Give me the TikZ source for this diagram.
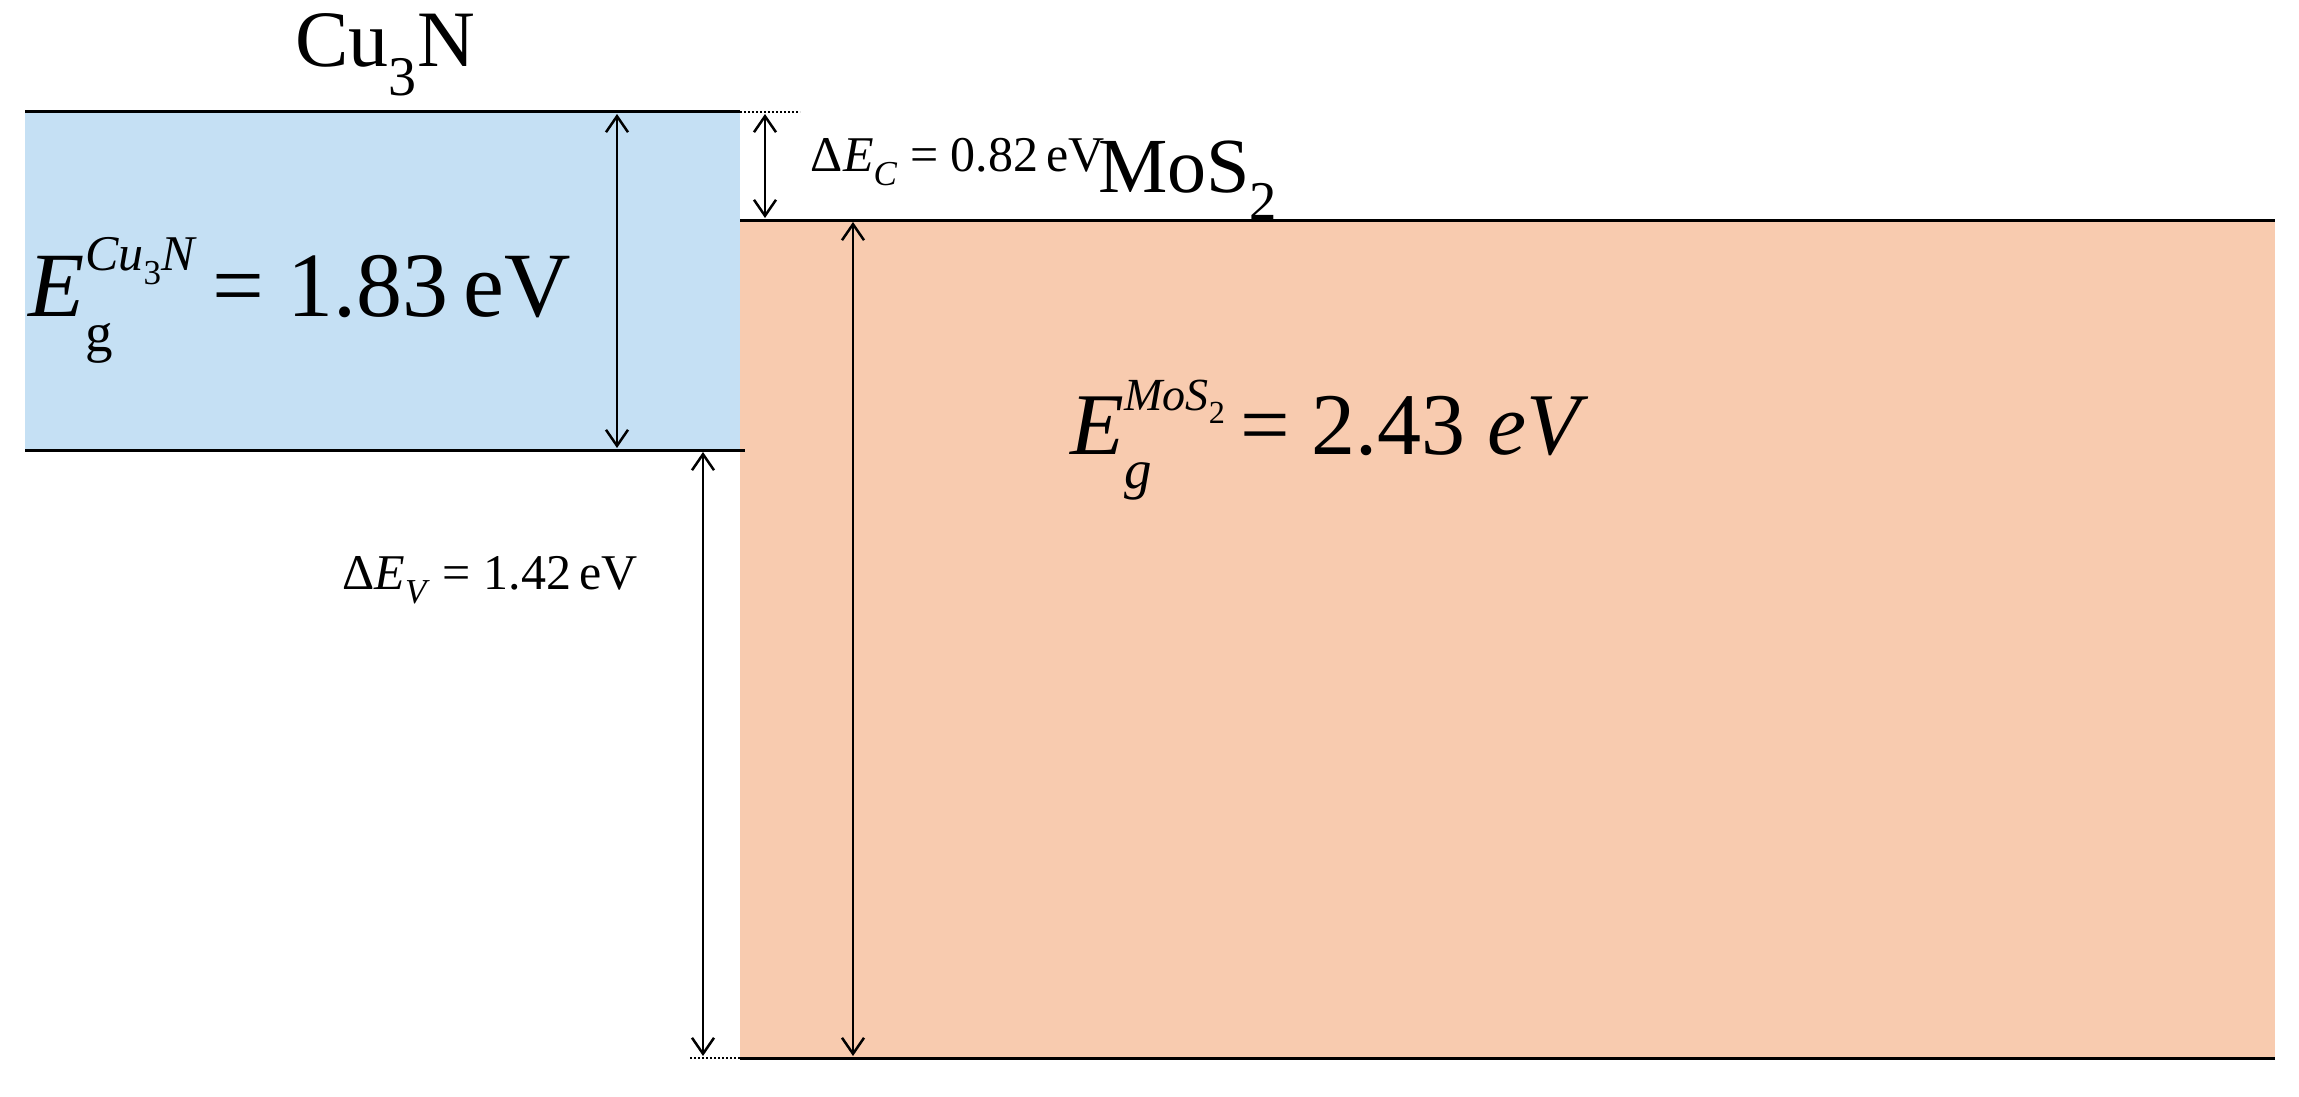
\documentclass[tikz,border=0pt]{standalone}
\usepackage{fontspec}
\usetikzlibrary{arrows.meta}
\setmainfont{Liberation Serif}
\definecolor{cublue}{RGB}{197,224,244}
\definecolor{mosor}{RGB}{248,203,175}
\tikzset{lvl/.style={line width=3pt},dot/.style={line width=2pt,dotted},
 arr/.style={line width=2.5pt,<->,>={Straight Barb[length=16pt,width=22pt]}}}
\begin{document}
\begin{tikzpicture}[x=1pt,y=-1pt]
\useasboundingbox (0,0) rectangle (2299,1097);
\fill[cublue] (25,112) rectangle (740,450);
\fill[mosor] (740,220) rectangle (2275,1058);
\coordinate (c1) at (25,112); \coordinate (c2) at (740,112); \coordinate (c3) at (800,112);
\coordinate (v1) at (25,450); \coordinate (v2) at (745,450);
\coordinate (m1) at (740,220); \coordinate (m2) at (2275,220);
\coordinate (b0) at (690,1058); \coordinate (b1) at (740,1058); \coordinate (b2) at (2275,1058);
\draw[lvl] (c1)--(c2); \draw[dot] (c2)--(c3);
\draw[lvl] (v1)--(v2); \draw[lvl] (m1)--(m2);
\draw[dot] (b0)--(b1); \draw[lvl] (b1)--(b2);
\coordinate (a1t) at (617,114); \coordinate (a1b) at (617,448);
\coordinate (a2t) at (765,114); \coordinate (a2b) at (765,218);
\coordinate (a3t) at (853,222); \coordinate (a3b) at (853,1056);
\coordinate (a4t) at (703,452); \coordinate (a4b) at (703,1056);
\draw[arr] (a1t)--(a1b); \draw[arr] (a2t)--(a2b);
\draw[arr] (a3t)--(a3b); \draw[arr] (a4t)--(a4b);
\node[font=\fontsize{80}{90}\selectfont] (cu) at (385,55) {Cu\textsubscript{3}N};
\node[font=\fontsize{78}{90}\selectfont] (mo) at (1188,180) {MoS\textsubscript{2}};
\node[font=\fontsize{50}{60}\selectfont] (dc) at (958,162) {Δ\textit{E}\textsubscript{\textit{C}} = 0.82\,eV};
\node[font=\fontsize{50}{60}\selectfont] (dv) at (490,580) {Δ\textit{E}\textsubscript{\textit{V}} = 1.42\,eV};
\node[font=\fontsize{92}{100}\selectfont] (eg1) at (300,300) {\textit{E}\rlap{\raisebox{-0.38em}{\fontsize{55}{60}\selectfont g}}\raisebox{0.5em}{\fontsize{50}{55}\selectfont\textit{Cu}\textsubscript{3}\textit{N}}\,= 1.83\,eV};
\node[font=\fontsize{88}{100}\selectfont] (eg2) at (1330,440) {\textit{E}\rlap{\raisebox{-0.38em}{\fontsize{55}{60}\selectfont\textit{g}}}\raisebox{0.5em}{\fontsize{46}{55}\selectfont\textit{MoS}\textsubscript{2}}\,= 2.43 \textit{eV}};
\end{tikzpicture}
\end{document}
